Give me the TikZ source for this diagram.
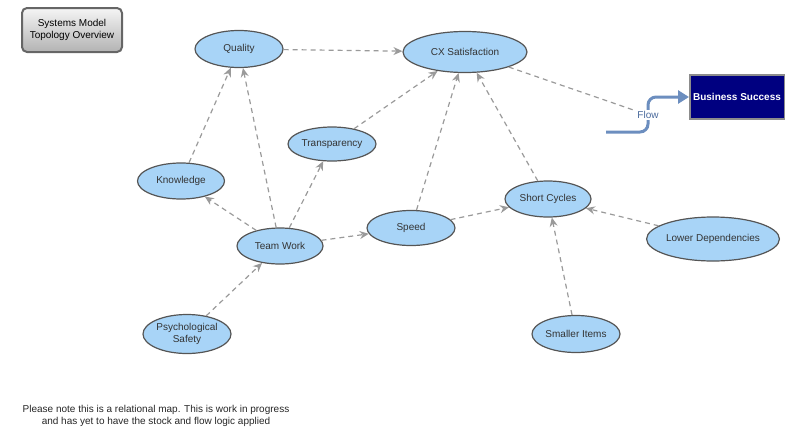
\documentclass[tikz,border=0pt]{standalone}
\usepackage{fontspec}
\setmainfont{Liberation Sans}
\usetikzlibrary{shapes.geometric,arrows.meta}
\definecolor{ellfill}{HTML}{A8D4F7}
\definecolor{ellline}{HTML}{555555}
\definecolor{edgegray}{HTML}{9A9A9A}
\definecolor{flowblue}{HTML}{6C8EBF}
\definecolor{flowtext}{HTML}{4A6A9C}
\definecolor{navybox}{HTML}{000080}
\tikzset{
  ell/.style={ellipse, draw=ellline, line width=1.2pt, fill=ellfill, inner sep=0pt, align=center, font=\fontsize{10}{12}\selectfont, text=black!80},
  rel/.style={draw=edgegray, line width=1.2pt, dash pattern=on 5pt off 4pt, -{Stealth[length=9pt,width=8pt,fill=edgegray]}},
  relnotip/.style={draw=edgegray, line width=1.2pt, dash pattern=on 5pt off 4pt},
}
\begin{document}
\begin{tikzpicture}[x=1pt,y=-1pt]
\useasboundingbox (0,0) rectangle (800,442);
% title box
\node[draw=black!60, line width=2pt, rounded corners=5pt, top color=black!4, bottom color=black!30, minimum width=100pt, minimum height=44pt, align=center, font=\fontsize{10}{12}\selectfont] (title) at (72,30) {Systems Model\\Topology Overview};
% nodes
\node[ell, minimum width=88pt, minimum height=37pt] (quality) at (239,49) {Quality};
\node[ell, minimum width=124pt, minimum height=41pt] (cx) at (465,52) {CX Satisfaction};
\node[ell, minimum width=88pt, minimum height=34pt] (transp) at (332,144) {Transparency};
\node[ell, minimum width=87pt, minimum height=36pt] (know) at (181,181) {Knowledge};
\node[ell, minimum width=86pt, minimum height=36pt] (short) at (548,199) {Short Cycles};
\node[ell, minimum width=86pt, minimum height=36pt] (team) at (280,246) {Team Work};
\node[ell, minimum width=88pt, minimum height=35pt] (speed) at (411,228) {Speed};
\node[ell, minimum width=116pt, minimum height=44pt] (lower) at (713,239) {Lower Dependencies};
\node[ell, minimum width=88pt, minimum height=39pt] (psych) at (187,334) {Psychological\\Safety};
\node[ell, minimum width=88pt, minimum height=37pt] (smaller) at (576,334) {Smaller Items};
\node[draw=black!45, line width=1.5pt, fill=navybox, minimum width=90pt, minimum height=44pt, text=white, font=\fontsize{10}{12}\selectfont\bfseries] (biz) at (737,97) {Business Success};
% flow arrow
\coordinate (flowstart) at (606,132);
\coordinate (flowbend1) at (648,132);
\coordinate (flowbend2) at (648,97);
\draw[flowblue, line width=3pt, rounded corners=8pt, -{Triangle[length=11pt,width=13pt]}] (flowstart) -- (flowbend1) -- (flowbend2) -- (biz.west);
\node[fill=white, inner sep=1pt, text=flowtext, font=\fontsize{10}{12}\selectfont] (flowlbl) at (648,115) {Flow};
% connectors
\draw[rel] (quality) -- (cx);
\draw[rel] (know) -- (quality);
\draw[rel] (team) -- (quality);
\draw[rel] (team) -- (know);
\draw[rel] (team) -- (transp);
\draw[rel] (team) -- (speed);
\draw[rel] (transp) -- (cx);
\draw[rel] (speed) -- (cx);
\draw[rel] (speed) -- (short);
\draw[rel] (short) -- (cx);
\draw[rel] (lower) -- (short);
\draw[rel] (smaller) -- (short);
\draw[rel] (psych) -- (team);
\draw[relnotip] (cx) -- (flowlbl);
% note
\node[align=center, font=\fontsize{10}{12}\selectfont, text=black!85] (note) at (156,416) {Please note this is a relational map. This is work in progress\\and has yet to have the stock and flow logic applied};
\end{tikzpicture}
\end{document}
